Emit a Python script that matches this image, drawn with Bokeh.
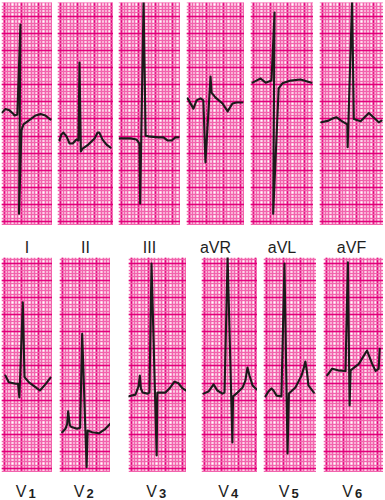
from bokeh.plotting import figure
from bokeh.layouts import row, column
from bokeh.models import Range1d, SingleIntervalTicker, Grid, Spacer
from bokeh.core.properties import value
from bokeh.embed import file_html
from bokeh.resources import INLINE

# ---------------- data (time and amplitude in small-square mm units) ----------------
limb_leads = ["I", "II", "III", "aVR", "aVL", "aVF"]
chest_leads = ["V1", "V2", "V3", "V4", "V5", "V6"]

I_t = [-0.5, 0.4, 1.6, 2.6, 3.1, 3.9, 4.8, 4.4, 5.1, 5.7, 7.2, 9.2, 10.7, 12.1, 13.6]
I_v = [31.9, 32.9, 32.5, 31.6, 31.0, 31.3, 57.6, 2.3, 26.6, 28.4, 29.5, 31.0, 31.4, 31.0, 29.8]

II_t = [-0.15, 0.4, 1.0, 1.9, 2.8, 3.7, 4.8, 5.4, 5.7, 6.1, 6.6, 8.3, 10.1, 11.0, 11.5, 12.4, 13.6, 14.8]
II_v = [23.7, 25.4, 26.0, 24.9, 22.8, 22.8, 24.0, 23.7, 46.5, 20.5, 21.3, 22.5, 24.3, 26.0, 26.0, 24.0, 22.5, 21.6]

III_t = [-0.4, 2.8, 4.5, 5.4, 5.6, 6.6, 7.2, 8.0, 11.0, 12.4, 13.6, 14.8, 15.9, 16.8]
III_v = [24.3, 24.3, 24.0, 22.8, 5.3, 64.6, 25.1, 24.9, 24.6, 24.6, 23.7, 23.7, 24.6, 24.6]

aVR_t = [-0.4, 1.3, 2.2, 3.4, 4.2, 4.8, 6.3, 6.6, 7.7, 9.8, 11.3, 12.7, 13.9, 15.6]
aVR_v = [36.0, 33.0, 35.4, 36.0, 35.4, 17.3, 42.4, 37.7, 36.3, 34.5, 32.2, 34.5, 34.8, 34.8]

aVL_t = [-0.15, 1.0, 2.2, 3.7, 5.4, 6.3, 5.9, 7.5, 8.6, 11.0, 13.9, 17.1]
aVL_v = [40.6, 41.2, 41.8, 40.6, 41.2, 61.1, 2.3, 38.9, 40.4, 41.2, 41.5, 40.6]

aVF_t = [-0.2, 1.9, 3.1, 4.2, 5.9, 7.4, 7.5, 8.8, 9.3, 11.3, 13.7, 16.6, 17.4]
aVF_v = [29.0, 29.5, 30.1, 30.5, 29.3, 28.4, 21.7, 64.6, 30.0, 29.3, 31.7, 29.0, 29.5]

V1_t = [0.4, 1.4, 3.4, 4.1, 4.5, 5.5, 6.0, 7.3, 9.2, 10.5, 12.1, 13.6]
V1_v = [27.2, 25.2, 24.8, 24.8, 20.8, 48.6, 26.7, 25.2, 23.8, 22.8, 24.6, 26.6]

V2_t = [0.06, 1.0, 1.5, 1.8, 2.3, 2.8, 4.4, 5.3, 5.9, 7.2, 7.5, 8.8, 10.8, 12.7, 14.2]
V2_v = [10.6, 11.6, 13.0, 16.7, 12.6, 12.1, 11.6, 11.9, 39.4, 0.4, 11.1, 10.6, 10.3, 11.6, 13.2]

V3_t = [-0.6, 1.3, 2.2, 2.6, 2.9, 3.4, 4.8, 5.4, 6.0, 7.5, 7.7, 10.1, 11.5, 12.7, 13.9, 15.1, 16.1]
V3_v = [21.1, 21.6, 24.0, 27.2, 23.4, 22.2, 21.9, 22.2, 59.9, 3.8, 22.2, 22.2, 23.7, 25.4, 24.9, 23.4, 22.8]

V4_t = [-0.15, 1.3, 2.8, 3.9, 5.4, 6.0, 6.9, 8.3, 8.5, 9.8, 11.3, 12.1, 12.7, 13.3, 14.2, 15.4]
V4_v = [21.9, 22.5, 24.6, 22.8, 21.9, 22.2, 61.9, 7.6, 21.1, 22.2, 23.7, 25.7, 29.5, 27.2, 24.3, 23.1]

V5_t = [-0.15, 0.7, 1.6, 2.2, 3.1, 4.5, 5.4, 6.3, 6.7, 8.6, 10.4, 11.0, 11.5, 12.0, 12.4, 14.0]
V5_v = [21.1, 22.5, 23.4, 22.8, 21.3, 21.1, 59.9, 4.4, 21.9, 23.7, 27.2, 29.2, 31.3, 28.1, 24.3, 22.2]

V6_t = [0.35, 1.8, 3.5, 5.7, 6.4, 6.9, 7.2, 9.6, 12.0, 13.5, 14.5, 15.4, 15.7]
V6_v = [27.2, 29.2, 28.7, 28.5, 60.3, 18.4, 28.7, 30.6, 34.5, 30.6, 28.5, 29.2, 35.0]

traces = {
    "I": (I_t, I_v), "II": (II_t, II_v), "III": (III_t, III_v),
    "aVR": (aVR_t, aVR_v), "aVL": (aVL_t, aVL_v), "aVF": (aVF_t, aVF_v),
    "V1": (V1_t, V1_v), "V2": (V2_t, V2_v), "V3": (V3_t, V3_v),
    "V4": (V4_t, V4_v), "V5": (V5_t, V5_v), "V6": (V6_t, V6_v),
}

# ---------------- layout / style ----------------
PX_PER_MM = 3.42
W = 385
top_lefts = [1, 57, 118, 186, 250, 319]
top_widths = [51, 56, 62, 58, 63, 64]
bot_lefts = [1, 59, 128, 201, 263, 323]
bot_widths = [51, 51, 58, 56, 53, 60]
TOP_H = 223
BOT_H = 215
GRID_OFF_X = 2.5
GRID_OFF_Y = 4.0

MAJOR = "#e2007b"
MINOR = "#f263ad"
TRACE = "#1a1a1a"
TEXT = "#1e1e1e"
FONT = "Liberation Sans"


def panel(name, width, height):
    x0 = -GRID_OFF_X / PX_PER_MM
    y0 = -GRID_OFF_Y / PX_PER_MM
    p = figure(width=width, height=height,
               x_range=Range1d(x0, x0 + width / PX_PER_MM),
               y_range=Range1d(y0, y0 + height / PX_PER_MM),
               toolbar_location=None, output_backend="svg",
               x_axis_location=None, y_axis_location=None,
               min_border=0, outline_line_color=None,
               background_fill_color="white", border_fill_color="white")
    p.center = []
    for dim in (0, 1):
        g = Grid(dimension=dim,
                 ticker=SingleIntervalTicker(interval=5, num_minor_ticks=5),
                 grid_line_color=MAJOR, grid_line_width=1.7,
                 minor_grid_line_color=MINOR, minor_grid_line_width=1.7)
        p.add_layout(g, "center")
    t, v = traces[name]
    p.line(t, v, line_color=TRACE, line_width=2.1, line_join="round", line_cap="round")
    return p


def panel_row(names, lefts, widths, height):
    kids = []
    pos = 0
    for n, l, w in zip(names, lefts, widths):
        if l > pos:
            kids.append(Spacer(width=l - pos, height=height))
        kids.append(panel(n, w, height))
        pos = l + w
    return row(kids, spacing=0)


def label_strip(names, lefts, widths, height, chest):
    p = figure(width=W, height=height, x_range=Range1d(0, W), y_range=Range1d(height, 0),
               toolbar_location=None, output_backend="svg",
               x_axis_location=None, y_axis_location=None,
               min_border=0, outline_line_color=None,
               background_fill_color="white", border_fill_color="white")
    p.center = []
    cx = [l + w / 2 for l, w in zip(lefts, widths)]
    if not chest:
        p.text(x=cx, y=[22] * len(cx), text=names, text_align="center",
               text_baseline="alphabetic", text_font=value(FONT),
               text_font_size="16px", text_color=TEXT)
    else:
        p.text(x=[c - 0.5 for c in cx], y=[18.5] * len(cx), text=[n[0] for n in names],
               text_align="right", text_baseline="alphabetic", text_font=value(FONT),
               text_font_size="16px", text_color=TEXT)
        p.text(x=[c + 1.5 for c in cx], y=[20.5] * len(cx), text=[n[1:] for n in names],
               text_align="left", text_baseline="alphabetic", text_font=value(FONT),
               text_font_size="13px", text_font_style="bold", text_color=TEXT)
    return p


layout = column(
    Spacer(width=W, height=2),
    panel_row(limb_leads, top_lefts, top_widths, TOP_H),
    label_strip(limb_leads, top_lefts, top_widths, 32, False),
    panel_row(chest_leads, bot_lefts, bot_widths, BOT_H),
    label_strip(chest_leads, bot_lefts, bot_widths, 28, True),
    spacing=0,
)

open("out.html", "w").write(file_html(layout, INLINE))
